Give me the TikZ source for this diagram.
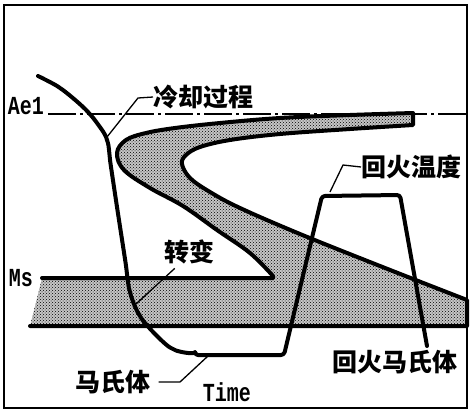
\documentclass[tikz,border=0pt]{standalone}
\usepackage{fontspec}
\newfontfamily\cjk{Noto Sans CJK SC}
\newfontfamily\mono{Liberation Mono}
\usetikzlibrary{patterns,calc}

\begin{document}
\begin{tikzpicture}[x=1pt,y=-1pt,
	curve/.style={line width=4pt,line join=round,line cap=round},
	leader/.style={line width=1.3pt},
	cn/.style={font=\cjk\bfseries\fontsize{25}{25}\selectfont,inner sep=0pt},
	en/.style={font=\mono\bfseries\fontsize{20}{20}\selectfont,inner sep=0pt}]
	\useasboundingbox (0,0) rectangle (474,418);
	\draw[line width=2pt] (4,5) rectangle (467,408);
	% Ae1 line
	\draw[line width=1.3pt,dash pattern=on 28pt off 4pt on 3pt off 4pt] (48,114) -- (467,114);
	% C curve and Ms band
	\draw[curve,preaction={fill=gray!45},pattern=crosshatch dots] (42,278) -- (273,278)
		-- plot[smooth,tension=0.6] coordinates {(273,276) (250,253) (217,230) (183,206) (150,188) (124,170) (117,153) (126,140) (146,133) (175,128) (220,123) (280,118) (350,115) (413,113)}
		-- (413,125)
		-- plot[smooth,tension=0.6] coordinates {(413,125) (350,129) (280,134) (230,140) (200,147) (186,155) (182,164) (190,178) (210,192) (240,208) (300,234) (380,266) (467,300)}
		-- (467,326) -- (30,326);
	% cooling and tempering
	\draw[curve,rounded corners=3pt] plot[smooth] coordinates {(38,76) (60,88) (83,107) (97,123) (107,140) (111,167) (117,207) (125,259) (130,292) (140,316) (157,336) (173,349) (195,355)}
		-- (284,355) -- (322,196) -- (400,195) -- (427,346);
	% labels
	\node[en] (ae) at (26,106) {\scalebox{1}[1.3]{Ae1}};
	\node[en] (ms) at (21,278) {\scalebox{1}[1.3]{Ms}};
	\node[en] (time) at (227,392) {\scalebox{1}[1.3]{Time}};
	\node[cn,anchor=west] (cool) at (153,97) {冷却过程};
	\node[cn] (trans) at (189,252) {转变};
	\node[cn] (mart) at (113,382) {马氏体};
	\node[cn,anchor=west] (temp) at (361,167) {回火温度};
	\node[cn] (tmart) at (395,362) {回火马氏体};
	\coordinate (c1) at (107,137);
	\coordinate (c2) at (136,304);
	\coordinate (c3) at (208,356);
	\coordinate (c4) at (330,192);
	\draw[leader] (c1) -- (138,98) -- (cool.west);
	\draw[leader] (c2) -- ($(trans.south west)+(11,4)$);
	\draw[leader] (c3) -- (180,382) -- ([xshift=8pt]mart.east);
	\draw[leader] (c4) -- (343,165) -- (temp.west);
\end{tikzpicture}
\end{document}
